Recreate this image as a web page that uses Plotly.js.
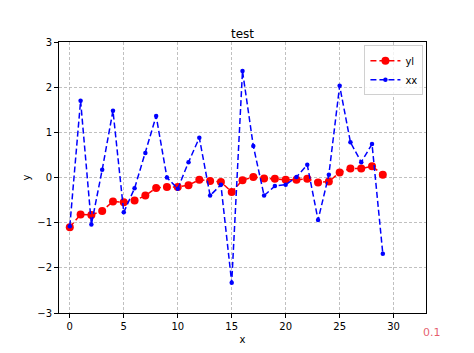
<!DOCTYPE html>
<html>
<head>
<meta charset="utf-8">
<script src="https://cdn.plot.ly/plotly-3.0.1.min.js"></script>
<style>html,body{margin:0;padding:0;background:#fff;}#chart{width:474px;height:353px;}</style>
</head>
<body>
<div id="chart"></div>
<script>
const xValues = [0,1,2,3,4,5,6,7,8,9,10,11,12,13,14,15,16,17,18,19,20,21,22,23,24,25,26,27,28,29];
const ylValues = [-1.10,-0.82,-0.83,-0.74,-0.53,-0.55,-0.51,-0.40,-0.23,-0.21,-0.21,-0.17,-0.05,-0.08,-0.10,-0.32,-0.06,0.01,-0.02,-0.03,-0.05,-0.05,-0.03,-0.11,-0.09,0.11,0.20,0.20,0.25,0.06];
const xxValues = [-1.08,1.70,-1.04,0.17,1.48,-0.77,-0.24,0.54,1.36,0.00,-0.25,0.34,0.88,-0.40,-0.16,-2.33,2.36,0.70,-0.40,-0.19,-0.16,0.01,0.28,-0.94,0.06,2.03,0.78,0.34,0.74,-1.69];
const xTicks = [0,5,10,15,20,25,30];
const yTicks = [-3,-2,-1,0,1,2,3];
const seriesNames = ['yl','xx'];

const font = {family:'DejaVu Sans, sans-serif', size:10, color:'#000'};
const data = [
  {x:xValues, y:ylValues, name:seriesNames[0], mode:'lines+markers', type:'scatter',
   line:{color:'red', dash:'6px,3px', width:1.5}, marker:{color:'red', size:8}},
  {x:xValues, y:xxValues, name:seriesNames[1], mode:'lines+markers', type:'scatter',
   line:{color:'blue', dash:'6px,3px', width:1.5}, marker:{color:'blue', size:4.5}}
];
const axisCommon = {showline:true, mirror:true, linecolor:'#000', linewidth:1, ticks:'outside', ticklen:4, tickcolor:'#000',
  showgrid:true, gridcolor:'#b0b0b0', griddash:'3px,2px', gridwidth:0.8, zeroline:false, tickfont:font};
const layout = {
  width:474, height:353,
  margin:{l:59, r:48, t:42, b:40},
  paper_bgcolor:'#fff', plot_bgcolor:'#fff',
  font:font,
  title:{text:'test', font:{family:'DejaVu Sans, sans-serif', size:12, color:'#000'}, x:0.5, xref:'paper', y:1, yref:'paper', yanchor:'bottom', pad:{b:4}},
  xaxis:Object.assign({}, axisCommon, {range:[-1,33], tickvals:xTicks, title:{text:'x', font:font, standoff:4}}),
  yaxis:Object.assign({}, axisCommon, {range:[-3,3], tickvals:yTicks, title:{text:'y', font:font, standoff:4}}),
  showlegend:true,
  legend:{x:0.993, y:0.988, xanchor:'right', yanchor:'top', bgcolor:'rgba(255,255,255,0.8)', bordercolor:'#d0d0d0', borderwidth:1, font:{family:'DejaVu Sans, sans-serif', size:10}, itemwidth:30, tracegroupgap:0},
  annotations:[{text:'0.1', xref:'paper', yref:'paper', x:(432-59)/367, y:-(332-313)/271, showarrow:false, xanchor:'center', yanchor:'middle', font:{family:'DejaVu Sans, sans-serif', size:11, color:'rgba(220,40,60,0.75)'}}]
};
Plotly.newPlot('chart', data, layout, {staticPlot:true, displayModeBar:false});
</script>
</body>
</html>
